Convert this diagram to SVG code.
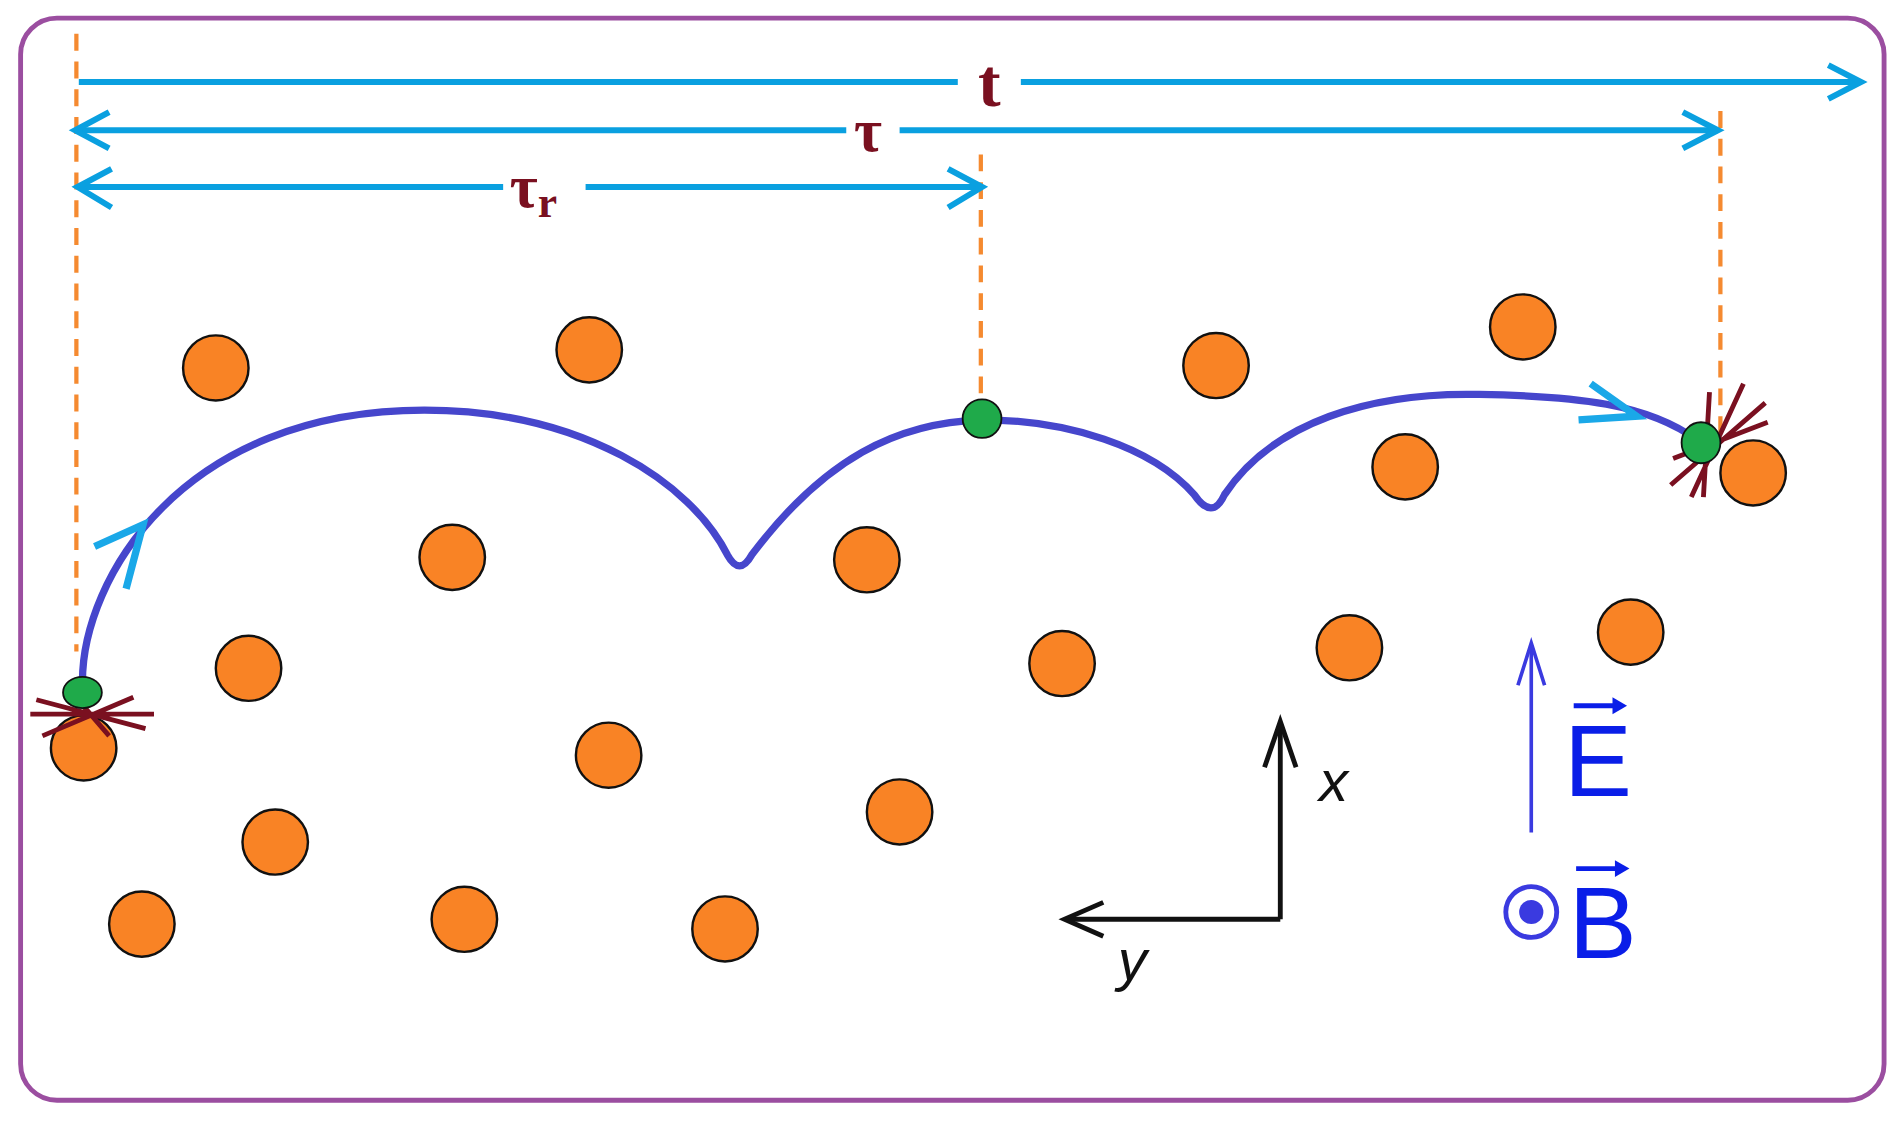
<svg xmlns="http://www.w3.org/2000/svg" width="1901" height="1128" viewBox="0 0 1901 1128">
<style>
.dash{stroke:#f58a30;stroke-width:3.5;stroke-dasharray:14 9;fill:none}
.dim{stroke:#0aa0e0;stroke-width:5;fill:none}
.lbl{font-family:"Liberation Serif",serif;font-weight:bold;fill:#7a1020;text-anchor:middle}
.atom{fill:#f98325;stroke:#111;stroke-width:2}
.star{stroke:#7a1020;stroke-width:4}
.el{fill:#1faa4a;stroke:#111;stroke-width:1.5}
</style>
<rect width="1901" height="1128" fill="#fff"/>
<g transform="scale(1.2124,1.2064)">
<rect x="17" y="15" width="1537" height="897" rx="30" fill="none" stroke="#9b4ea0" stroke-width="4"/>
<g id="guides">
<line class="dash" x1="63" y1="28" x2="63" y2="540"/>
<line class="dash" x1="809" y1="128" x2="809" y2="332"/>
<line class="dash" x1="1419" y1="92" x2="1419" y2="360"/>
</g>
<g id="connectors">
<line class="dim" x1="65" y1="68" x2="790" y2="68"/><line class="dim" x1="842" y1="68" x2="1533" y2="68"/>
<path class="dim" d="M1508,54 L1535,68 L1508,82"/>
<line class="dim" x1="62" y1="108" x2="698" y2="108"/><line class="dim" x1="742" y1="108" x2="1417" y2="108"/>
<path class="dim" d="M90,93 L62,108 L90,123 M1388,93 L1417,108 L1388,123"/>
<line class="dim" x1="64" y1="155" x2="415" y2="155"/><line class="dim" x1="483" y1="155" x2="810" y2="155"/>
<path class="dim" d="M92,140 L64,155 L92,172 M782,140 L810,155 L782,172"/>
<path d="M68,565 C68,480 150,340 350,340 C480,340 570,400 600,460 Q610,478 620,460 C680,380 740,350 810,348 C880,348 950,370 985,410 Q1000,432 1010,410 C1050,350 1130,325 1220,327 C1300,328 1360,335 1400,365" fill="none" stroke="#4646cc" stroke-width="6"/>
<path d="M78,453 L118,435 L104,488" fill="none" stroke="#1aa8e8" stroke-width="6"/>
<path d="M1312,318 L1350,345 L1302,348" fill="none" stroke="#1aa8e8" stroke-width="6"/>
<line x1="1056" y1="762" x2="1056" y2="600" stroke="#111" stroke-width="4"/>
<path d="M1043,636 L1056,598 L1069,636" fill="none" stroke="#111" stroke-width="4"/>
<line x1="1056" y1="762" x2="880" y2="762" stroke="#111" stroke-width="4"/>
<path d="M910,748 L878,762 L910,776" fill="none" stroke="#111" stroke-width="4"/>
<line x1="1263" y1="690" x2="1263" y2="537" stroke="#3a3ae0" stroke-width="3"/>
<path d="M1252,568 L1263,533 L1274,568" fill="none" stroke="#3a3ae0" stroke-width="3"/>
</g>
<text class="lbl" x="816" y="88" font-size="56">t</text>
<text class="lbl" x="716" y="125" font-size="50">τ</text>
<text class="lbl" x="440" y="172" font-size="50">τ<tspan font-size="36" dy="8">r</tspan></text>
<g id="atoms">
<circle class="atom" cx="178" cy="305" r="27"/><circle class="atom" cx="486" cy="290" r="27"/>
<circle class="atom" cx="1003" cy="303" r="27"/><circle class="atom" cx="1256" cy="271" r="27"/>
<circle class="atom" cx="1159" cy="387" r="27"/><circle class="atom" cx="1446" cy="392" r="27"/>
<circle class="atom" cx="373" cy="462" r="27"/><circle class="atom" cx="715" cy="464" r="27"/>
<circle class="atom" cx="205" cy="554" r="27"/><circle class="atom" cx="876" cy="550" r="27"/>
<circle class="atom" cx="1113" cy="537" r="27"/><circle class="atom" cx="1345" cy="524" r="27"/>
<circle class="atom" cx="69" cy="620" r="27"/><circle class="atom" cx="502" cy="626" r="27"/>
<circle class="atom" cx="742" cy="673" r="27"/><circle class="atom" cx="227" cy="698" r="27"/>
<circle class="atom" cx="117" cy="766" r="27"/><circle class="atom" cx="383" cy="762" r="27"/>
<circle class="atom" cx="598" cy="770" r="27"/>
</g>
<g id="stars">
<path class="star" d="M25,592 L127,592 M30,580 L120,604 M35,610 L110,578 M60,575 L90,610"/>
<path class="star" d="M1378,402 L1456,334 M1395,412 L1438,318 M1380,380 L1458,350 M1410,325 L1405,412"/>
</g>
<g id="electrons">
<ellipse class="el" cx="68" cy="574" rx="16" ry="13"/>
<ellipse class="el" cx="810" cy="347" rx="16" ry="16"/>
<ellipse class="el" cx="1403" cy="367" rx="16" ry="17"/>
</g>
<text x="1100" y="664" font-family="Liberation Sans,sans-serif" font-style="italic" font-size="48" fill="#111" text-anchor="middle">x</text>
<text x="934" y="812" font-family="Liberation Sans,sans-serif" font-style="italic" font-size="48" fill="#111" text-anchor="middle">y</text>
<g id="fields" fill="#0a1ee8">
<text x="1318" y="660" font-family="Liberation Sans,sans-serif" font-size="84" text-anchor="middle">E</text>
<path d="M1298,585 L1336,585" stroke="#0a1ee8" stroke-width="4"/><path d="M1330,578 L1342,585 L1330,592Z"/>
<text x="1322" y="794" font-family="Liberation Sans,sans-serif" font-size="84" text-anchor="middle">B</text>
<path d="M1300,720 L1338,720" stroke="#0a1ee8" stroke-width="4"/><path d="M1332,713 L1344,720 L1332,727Z"/>
<circle cx="1263" cy="756" r="21" fill="none" stroke="#3a3ae0" stroke-width="4"/>
<circle cx="1263" cy="756" r="10" fill="#3a3ae0"/>
</g>
</g>
</svg>
